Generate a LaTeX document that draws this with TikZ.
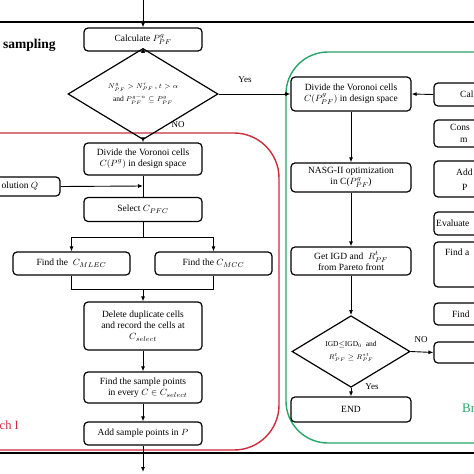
\documentclass[tikz,border=0pt]{standalone}
\usepackage{fontspec}
\setmainfont{Liberation Serif}
\usetikzlibrary{shapes.geometric,arrows.meta}
\definecolor{redline}{RGB}{205,45,60}
\definecolor{greenline}{RGB}{40,165,105}
\tikzset{
  box/.style={draw, line width=1.2pt, rounded corners=4pt, align=center, inner sep=1pt, font=\fontsize{9.5}{11}\selectfont},
  dia/.style={draw, diamond, line width=1.2pt, inner sep=0pt, align=center, font=\fontsize{7.5}{10}\selectfont},
  conn/.style={line width=0.9pt},
  arr/.style={line width=0.9pt, -{Latex[length=5pt,width=4pt]}},
  lbl/.style={font=\fontsize{9}{10}\selectfont, inner sep=0pt},
  frag/.style={font=\fontsize{9.5}{11}\selectfont, inner sep=0pt, anchor=west},
  thickline/.style={line width=2.2pt},
  dot/.style={circle, fill, inner sep=0pt, minimum size=3.5pt}
}
\begin{document}
\begin{tikzpicture}[x=1pt,y=-1pt]
\useasboundingbox (0,0) rectangle (474,474);
\clip (0,0) rectangle (474,474);
\fill[white] (0,0) rectangle (474,474);
% regions
\draw[redline, line width=1.4pt, rounded corners=45pt] (-20,133) -- (279,133) -- (279,450) -- (-20,450);
\draw[greenline, line width=1.4pt, rounded corners=42pt] (500,52) -- (286,52) -- (286,443) -- (500,443);
\draw[thickline] (-5,22) -- (480,22);
\draw[thickline] (-5,453) -- (480,453);
% left column
\node[box, minimum width=118pt, minimum height=23pt] (calc) at (143,39.5) {Calculate $P^{g}_{PF}$};
\node[dia, minimum width=150pt, minimum height=52pt] (d1) at (143,94) {$N^{g}_{PF}>N^{r}_{PF}$ , $t>\alpha$\\[3pt] and $P^{g-n}_{PF}\subseteq P^{g}_{PF}$};
\node[box, minimum width=118pt, minimum height=32pt] (divL) at (143,159) {Divide the Voronoi cells\\ $C(P^{g})$ in design space};
\node[box, minimum width=80pt, minimum height=19pt] (sol) at (20,186.5) {olution $Q$};
\node[box, minimum width=118pt, minimum height=24pt] (sel) at (143,209.5) {Select $C_{PFC}$};
\node[box, minimum width=117pt, minimum height=23pt] (mlec) at (71.5,263.5) {Find the\ \ $C_{MLEC}$};
\node[box, minimum width=117pt, minimum height=23pt] (mcc) at (213.5,263.5) {Find the $C_{MCC}$};
\node[box, minimum width=118pt, minimum height=48pt] (del) at (143,326) {Delete duplicate cells\\ and record the cells at\\ $C_{select}$};
\node[box, minimum width=118pt, minimum height=31pt] (fsp) at (143,387.5) {Find the sample points\\ \quad in every $C\in C_{select}$};
\node[box, minimum width=118pt, minimum height=23pt] (add) at (143,433.5) {Add sample points in $P$};
% green column
\node[box, minimum width=120pt, minimum height=34pt] (divR) at (351,94) {Divide the Voronoi cells\\ $C(P^{g}_{PF})$ in design space};
\node[box, minimum width=120pt, minimum height=29pt] (nsga) at (351,177.5) {NASG-II optimization\\ in C($P^{g}_{PF}$)};
\node[box, minimum width=120pt, minimum height=28pt] (igd) at (351,261) {Get IGD and\ \ $R^{t}_{PF}$\\ from Pareto front};
\node[dia, minimum width=118pt, minimum height=51pt] (d2) at (351,351.5) {IGD$\leq$IGD$_0$\ \ and\\[3pt] $R^{t}_{PF}\geq R^{*t}_{PF}$};
\node[box, minimum width=120pt, minimum height=25pt] (end) at (351,409.5) {END};
% right column (cropped)
\node[box, minimum width=66pt, minimum height=23pt] (r1) at (467,94.5) {};
\node[box, minimum width=66pt, minimum height=27pt] (r2) at (467,133.5) {};
\node[box, minimum width=66pt, minimum height=36pt] (r3) at (467,179) {};
\node[box, minimum width=66pt, minimum height=23pt] (r4) at (467,223.5) {};
\node[box, minimum width=66pt, minimum height=45pt] (r5) at (467,264.5) {};
\node[box, minimum width=66pt, minimum height=22pt] (r6) at (467,314) {};
\node[box, minimum width=66pt, minimum height=21pt] (r7) at (467,352.5) {};
\node[frag] (t1) at (460,94.5) {Cal};
\node[frag] (t2a) at (450,127.5) {Cons};
\node[frag] (t2b) at (460,140.5) {m};
\node[frag] (t3a) at (456,172) {Add};
\node[frag] (t3b) at (462,187) {P};
\node[frag] (t4) at (436,223.5) {Evaluate};
\node[frag] (t5) at (445,252) {Find a};
\node[frag] (t6) at (452,314) {Find};
% texts
\node[font=\bfseries\fontsize{13.5}{15}\selectfont, anchor=west, inner sep=0pt] (samp) at (3,45) {sampling};
\node[font=\fontsize{12.5}{14}\selectfont, text=redline, anchor=east, inner sep=0pt] (b1) at (19,425) {Branch I};
\node[font=\fontsize{13}{14}\selectfont, text=greenline, anchor=west, inner sep=0pt] (b2) at (462,408) {Branch II};
% connectors
\coordinate (top) at (143,-2);
\coordinate (jt) at (143,22);
\coordinate (jy) at (286,94);
\coordinate (js) at (143,186);
\coordinate (ja) at (143,237);
\coordinate (jal) at (71.5,237);
\coordinate (jar) at (213.5,237);
\coordinate (jb) at (143,289);
\coordinate (jbl) at (71.5,289);
\coordinate (jbr) at (213.5,289);
\coordinate (bot) at (143,472);
\draw[arr] (top) -- (calc.north);
\node[dot] at (jt) {};
\draw[arr] (calc.south) -- (d1.north);
\draw[arr] (d1.east) -- (divR.west);
\node[dot] at (jy) {};
\node[lbl] (yes1) at (245,80) {Yes};
\draw[arr] (d1.south) -- (divL.north);
\node[lbl] (no1) at (178,125) {NO};
\draw[conn] (divL.south) -- (sel.north);
\draw[arr] (sol.east) -- (js);
\draw[conn] (sel.south) -- (ja);
\draw[conn] (jal) -- (jar);
\draw[arr] (jal) -- (mlec.north);
\draw[arr] (jar) -- (mcc.north);
\draw[conn] (mlec.south) -- (jbl) -- (jbr) -- (mcc.south);
\draw[arr] (jb) -- (del.north);
\draw[arr] (del.south) -- (fsp.north);
\draw[arr] (fsp.south) -- (add.north);
\draw[arr] (add.south) -- (bot);
\draw[arr] (r1.west) -- (divR.east);
\draw[arr] (divR.south) -- (nsga.north);
\draw[arr] (nsga.south) -- (igd.north);
\draw[arr] (igd.south) -- (d2.north);
\draw[arr] (d2.south) -- (end.north);
\node[lbl] (yes2) at (372,387) {Yes};
\draw[arr] (d2.east) -- (r7.west);
\node[lbl] (no2) at (421,340) {NO};
\end{tikzpicture}
\end{document}
